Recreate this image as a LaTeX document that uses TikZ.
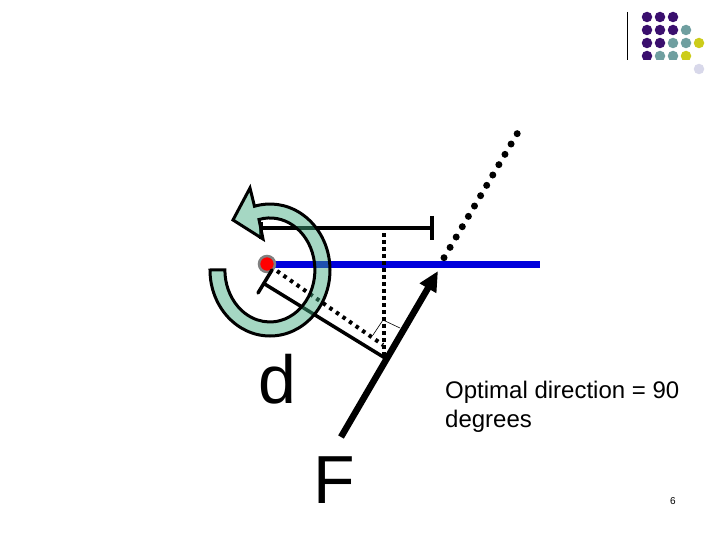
\documentclass[tikz,border=0pt]{standalone}
\usepackage{fontspec}
\setmainfont{Liberation Sans}
\usetikzlibrary{arrows.meta,calc}
\definecolor{ringgreen}{RGB}{64,170,128}
\definecolor{logopurple}{RGB}{58,15,110}
\definecolor{logoteal}{RGB}{111,159,160}
\definecolor{logoyellow}{RGB}{204,204,26}
\definecolor{logolilac}{RGB}{216,216,234}
\definecolor{lineblue}{RGB}{0,0,220}

\begin{document}
\begin{tikzpicture}[x=1pt, y=-1pt,
    dotline/.style={line width=7pt, line cap=round, dash pattern=on 0pt off 12pt},
    smalldot/.style={line width=4pt, dash pattern=on 3.5pt off 3.5pt},
    bar/.style={line width=3.5pt},
    thinline/.style={line width=0.6pt},
    logodot/.style={circle, inner sep=0pt, minimum size=10.5pt},
    bigtext/.style={font=\fontsize{68}{68}\selectfont, inner sep=0pt}]

    \useasboundingbox (0,0) rectangle (720,540);
    \fill[white] (0,0) rectangle (720,540);

    \coordinate (blueend) at (540,264);
    \coordinate (pivotc) at (267,264);
    \coordinate (lever) at (258,293);
    \coordinate (dstart) at (263,283);
    \coordinate (dfoot) at (385,358);
    \coordinate (dotfoot) at (383,345);
    \coordinate (armleft) at (261,228);
    \coordinate (armright) at (432,228);
    \coordinate (droptop) at (384,233);
    \coordinate (dropfoot) at (384,357);
    \coordinate (fstart) at (341,437);
    \coordinate (ftip) at (438,271);
    \coordinate (linestart) at (444,257.7);
    \coordinate (lineend) at (517.4,133.3);

    % line of force and the arm
    \draw[line width=7pt, lineblue] (pivotc) -- (blueend);
    \draw[bar] (dstart) -- (dfoot);
    \draw[bar] (armleft) -- (armright);
    \draw[bar] ($(armright)+(0,-12)$) -- ($(armright)+(0,12)$);
    \draw[bar] ($(armleft)+(0,-6)$) -- ($(armleft)+(0,11)$);
    \draw[smalldot] (droptop) -- (dropfoot);
    \draw[line width=4pt, dash pattern=on 3.5pt off 4.5pt] (277,271) -- (dotfoot);
    \draw[thinline] (373,335) -- (383,320) -- (400,328);
    \draw[dotline] (linestart) -- (lineend);
    \draw[line width=6.5pt, -{Triangle[length=20pt,width=18pt]}] (fstart) -- (ftip);

    % turning arrow
    \draw[line width=3pt, fill=ringgreen, fill opacity=0.47]
        (210,270) arc[x radius=60, y radius=66, start angle=180, end angle=-105]
        -- (250,188) -- (233,220) -- (263,239) -- (259,219.5)
        arc[x radius=45, y radius=52, start angle=-104, end angle=180] -- cycle;

    \node[circle, draw=gray, line width=2.5pt, fill=red, minimum size=16pt, inner sep=0pt] (pivot) at (pivotc) {};
    \draw[bar, line cap=round] (272,270) -- (lever);

    \node[bigtext, anchor=base] (dlabel) at (277,403) {d};
    \node[bigtext, anchor=base] (flabel) at (334,503) {F};
    \node[anchor=north west, inner sep=0pt, align=left, font=\fontsize{24}{29.5}\selectfont] (note) at (445,380.5) {Optimal direction = 90\\degrees};
    \node[inner sep=0pt, font=\fontsize{10}{12}\selectfont] (page) at (673,501) {6};

    % logo
    \draw[line width=1pt] (627.5,12) -- (627.5,60);
    \begin{scope}
        \clip (630,0) rectangle (720,60);
        \foreach \col/\row/\shade in {647/17/logopurple, 660/17/logopurple, 673/17/logopurple,
                647/30/logopurple, 660/30/logopurple, 673/30/logopurple, 686/30/logoteal,
                647/43/logopurple, 660/43/logopurple, 673/43/logoteal, 686/43/logoteal, 699/43/logoyellow,
                647/56/logopurple, 660/56/logoteal, 673/56/logoteal, 686/56/logoyellow}
            \node[logodot, fill=\shade] at (\col,\row) {};
    \end{scope}
    \node[logodot, fill=logolilac] (lilac) at (699,69) {};
\end{tikzpicture}
\end{document}
